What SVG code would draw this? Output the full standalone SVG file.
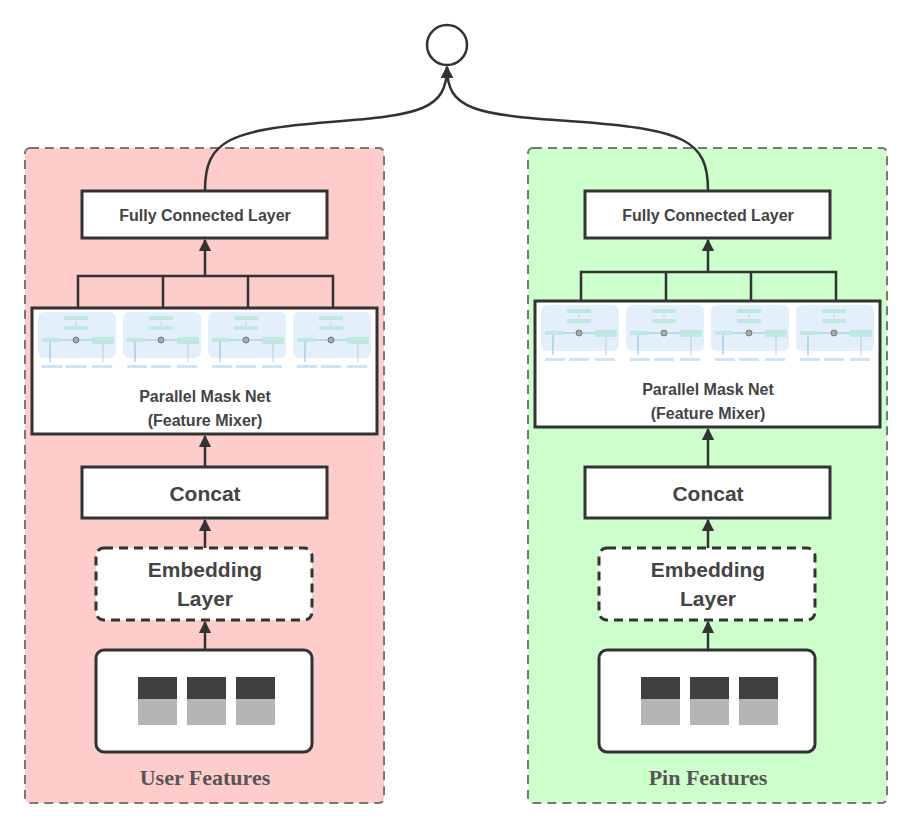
<svg xmlns="http://www.w3.org/2000/svg" xmlns:xlink="http://www.w3.org/1999/xlink" width="908" height="822" viewBox="0 0 908 822">
<defs>
<style>
.box{fill:#fff;stroke:#333;stroke-width:3}
.dash{fill:#fff;stroke:#333;stroke-width:3;stroke-dasharray:9 6}
.t{font-family:"Liberation Sans",Arial,sans-serif;font-weight:bold;fill:#444;text-anchor:middle}
.lab{font-family:"Liberation Serif","Times New Roman",serif;font-weight:bold;fill:#555;font-size:22px;text-anchor:middle}
.c{fill:none;stroke:#333;stroke-width:2.5}
.mini{fill:#e3f0fb}
.tb{fill:#bfe8e0}
.dark{fill:#404040}
.grey{fill:#b5b5b5}
</style>
<marker id="ah" viewBox="0 0 10 10" refX="9" refY="5" markerWidth="5" markerHeight="5" orient="auto"><path d="M0,0L10,5L0,10z" fill="#333"/></marker>
<g id="minicell">
<rect x="0" y="0" width="78" height="46" rx="6" class="mini"/>
<rect x="26" y="4" width="24" height="4" class="tb"/>
<rect x="26" y="14" width="24" height="4" class="tb"/>
<line x1="38" y1="9" x2="38" y2="13" stroke="#9cc" stroke-width="0.6"/>
<rect x="4" y="26" width="18" height="4" class="tb"/>
<rect x="54" y="25" width="22" height="7" class="tb"/>
<circle cx="38" cy="28" r="3" fill="#aaa" stroke="#666" stroke-width="0.8"/>
<line x1="22" y1="28" x2="35" y2="28" stroke="#6ab" stroke-width="0.6"/>
<line x1="41" y1="28" x2="54" y2="28" stroke="#6ab" stroke-width="0.6"/>
<line x1="12" y1="30" x2="12" y2="50" stroke="#8bd" stroke-width="1"/>
<line x1="65" y1="32" x2="65" y2="50" stroke="#bcd" stroke-width="1"/>
<rect x="4" y="53" width="20" height="3" fill="#cfe3f7"/>
<rect x="28" y="53" width="20" height="3" fill="#cfe3f7"/>
<rect x="54" y="53" width="20" height="3" fill="#cfe3f7"/>
</g>
</defs>
<rect width="908" height="822" fill="#fff"/>

<g id="user-panel">
<rect x="25" y="148" width="359" height="655" rx="5" fill="#ffcccc" stroke="#777" stroke-width="2" stroke-dasharray="9 6"/>
<text x="205" y="785" class="lab">User Features</text>
</g>
<g id="pin-panel">
<rect x="528" y="148" width="359" height="655" rx="5" fill="#ccffcc" stroke="#777" stroke-width="2" stroke-dasharray="9 6"/>
<text x="708" y="785" class="lab">Pin Features</text>
</g>

<g id="output"><circle cx="447" cy="45" r="20" fill="#fff" stroke="#333" stroke-width="2.5"/></g>

<g id="user-fc"><rect x="82" y="191" width="245" height="47" class="box"/><text x="205" y="221" class="t" font-size="16">Fully Connected Layer</text></g>
<g id="user-mask">
<rect x="32" y="308" width="345" height="126" class="box"/>
<use xlink:href="#minicell" x="38" y="312"/><use xlink:href="#minicell" x="123" y="312"/><use xlink:href="#minicell" x="208" y="312"/><use xlink:href="#minicell" x="293" y="312"/>
<text x="205" y="402" class="t" font-size="16">Parallel Mask Net</text><text x="205" y="426" class="t" font-size="16">(Feature Mixer)</text>
</g>
<g id="user-concat"><rect x="82" y="467" width="245" height="51" class="box"/><text x="205" y="501" class="t" font-size="21">Concat</text></g>
<g id="user-emb"><rect x="96" y="548" width="216" height="72" rx="8" class="dash"/><text x="205" y="577" class="t" font-size="21">Embedding</text><text x="205" y="606" class="t" font-size="21">Layer</text></g>
<g id="user-features"><rect x="96" y="650" width="216" height="102" rx="8" class="box"/>
<rect x="138" y="677" width="39" height="22" class="dark"/><rect x="138" y="699" width="39" height="26" class="grey"/>
<rect x="187" y="677" width="39" height="22" class="dark"/><rect x="187" y="699" width="39" height="26" class="grey"/>
<rect x="236" y="677" width="39" height="22" class="dark"/><rect x="236" y="699" width="39" height="26" class="grey"/></g>

<g id="pin-fc"><rect x="585" y="191" width="245" height="47" class="box"/><text x="708" y="221" class="t" font-size="16">Fully Connected Layer</text></g>
<g id="pin-mask">
<rect x="535" y="301" width="345" height="126" class="box"/>
<use xlink:href="#minicell" x="541" y="305"/><use xlink:href="#minicell" x="626" y="305"/><use xlink:href="#minicell" x="711" y="305"/><use xlink:href="#minicell" x="796" y="305"/>
<text x="708" y="395" class="t" font-size="16">Parallel Mask Net</text><text x="708" y="419" class="t" font-size="16">(Feature Mixer)</text>
</g>
<g id="pin-concat"><rect x="585" y="467" width="245" height="51" class="box"/><text x="708" y="501" class="t" font-size="21">Concat</text></g>
<g id="pin-emb"><rect x="599" y="548" width="216" height="72" rx="8" class="dash"/><text x="708" y="577" class="t" font-size="21">Embedding</text><text x="708" y="606" class="t" font-size="21">Layer</text></g>
<g id="pin-features"><rect x="599" y="650" width="216" height="102" rx="8" class="box"/>
<rect x="641" y="677" width="39" height="22" class="dark"/><rect x="641" y="699" width="39" height="26" class="grey"/>
<rect x="690" y="677" width="39" height="22" class="dark"/><rect x="690" y="699" width="39" height="26" class="grey"/>
<rect x="739" y="677" width="39" height="22" class="dark"/><rect x="739" y="699" width="39" height="26" class="grey"/></g>

<g id="connectors">
<path class="c" d="M205,190 C205,140 230,130 330,122 C420,115 447,110 447,67" marker-end="url(#ah)"/>
<path class="c" d="M708,190 C708,140 683,130 583,122 C473,115 447,110 447,67" marker-end="url(#ah)"/>
<path class="c" d="M78,308 V276 H333 V308 M163,276 V308 M248,276 V308"/>
<line class="c" x1="205" y1="276" x2="205" y2="240" marker-end="url(#ah)"/>
<line class="c" x1="205" y1="467" x2="205" y2="436" marker-end="url(#ah)"/>
<line class="c" x1="205" y1="548" x2="205" y2="520" marker-end="url(#ah)"/>
<line class="c" x1="205" y1="650" x2="205" y2="622" marker-end="url(#ah)"/>
<path class="c" d="M581,301 V272 H836 V301 M666,272 V301 M751,272 V301"/>
<line class="c" x1="708" y1="272" x2="708" y2="240" marker-end="url(#ah)"/>
<line class="c" x1="708" y1="467" x2="708" y2="429" marker-end="url(#ah)"/>
<line class="c" x1="708" y1="548" x2="708" y2="520" marker-end="url(#ah)"/>
<line class="c" x1="708" y1="650" x2="708" y2="622" marker-end="url(#ah)"/>
</g>
</svg>
